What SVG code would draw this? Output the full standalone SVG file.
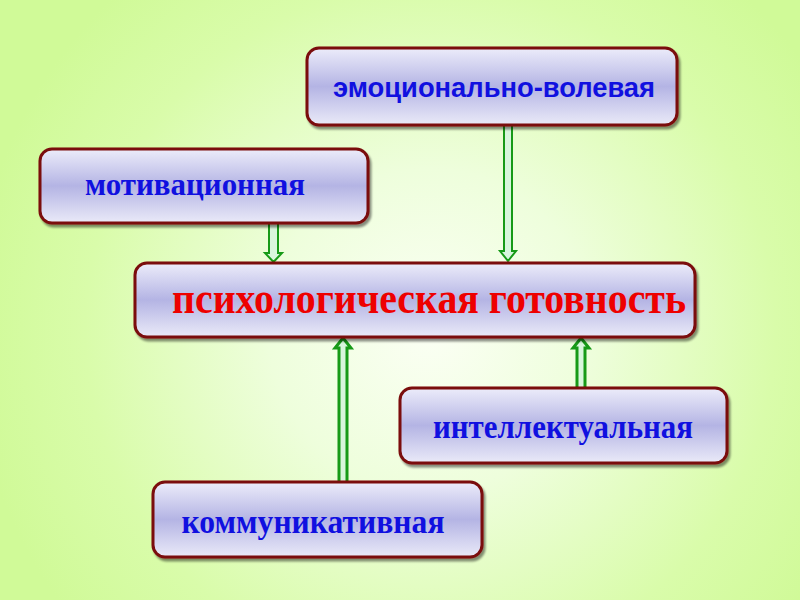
<svg xmlns="http://www.w3.org/2000/svg" width="800" height="600" viewBox="0 0 800 600">
  <defs>
    <radialGradient id="bg" cx="430" cy="330" r="460" gradientUnits="userSpaceOnUse">
      <stop offset="0" stop-color="#fbfff4"/>
      <stop offset="0.35" stop-color="#eefedc"/>
      <stop offset="0.75" stop-color="#d9fcaa"/>
      <stop offset="1" stop-color="#d0fa98"/>
    </radialGradient>
    <linearGradient id="box" x1="0" y1="0" x2="0" y2="1">
      <stop offset="0" stop-color="#ececfa"/>
      <stop offset="0.5" stop-color="#b4b4e4"/>
      <stop offset="1" stop-color="#eaeaf8"/>
    </linearGradient>
    <filter id="sh" x="-5%" y="-10%" width="115%" height="130%">
      <feGaussianBlur in="SourceAlpha" stdDeviation="1.2"/>
      <feOffset dx="2" dy="3" result="o"/>
      <feComponentTransfer><feFuncA type="linear" slope="0.45"/></feComponentTransfer>
      <feMerge><feMergeNode/><feMergeNode in="SourceGraphic"/></feMerge>
    </filter>
  </defs>
  <style>
    .b { fill: url(#box); stroke: #7a0a0a; stroke-width: 3; filter: url(#sh); }
    .t { font-family: "Liberation Serif", "Times New Roman", serif; font-weight: bold; fill: #1010e0; }
    .ts { font-family: "Liberation Sans", Arial, sans-serif; font-weight: bold; fill: #1010e0; }
    .tr { font-family: "Liberation Serif", "Times New Roman", serif; font-weight: bold; fill: #ee0000; }
    .a { fill: #d8f6dc; stroke: #179a17; stroke-width: 2; stroke-linejoin: miter; }
    .a2 { fill: #d8f6dc; stroke: #179a17; stroke-width: 3; stroke-linejoin: miter; }
  </style>
  <rect width="800" height="600" fill="url(#bg)"/>

  <g id="connectors">
    <path class="a" d="M269,223 H278 V253 H282 L273.5,262 L265,253 H269 Z"/>
    <path class="a" d="M504,124 H512 V251 H516 L508,261 L500,251 H504 Z"/>
    <path class="a2" d="M339,483 V348 H335 L343,338 L351,348 H347 V483 Z"/>
    <path class="a2" d="M577,389 V348 H573 L581,338 L589,348 H585 V389 Z"/>
  </g>

  <g id="node-emotional">
    <rect class="b" x="307" y="48" width="370" height="77" rx="12"/>
    <text class="ts" x="494" y="97" font-size="28" text-anchor="middle" textLength="322" lengthAdjust="spacingAndGlyphs">эмоционально-волевая</text>
  </g>
  <g id="node-motivational">
    <rect class="b" x="40" y="149" width="328" height="74" rx="12"/>
    <text class="t" x="195" y="195" font-size="31" text-anchor="middle" textLength="220" lengthAdjust="spacingAndGlyphs">мотивационная</text>
  </g>
  <g id="node-readiness">
    <rect class="b" x="135" y="263" width="560" height="74" rx="12"/>
    <text class="tr" x="429" y="313" font-size="44" text-anchor="middle" textLength="514" lengthAdjust="spacingAndGlyphs">психологическая готовность</text>
  </g>
  <g id="node-intellectual">
    <rect class="b" x="400" y="388" width="327" height="75" rx="12"/>
    <text class="t" x="563" y="438" font-size="34" text-anchor="middle" textLength="260" lengthAdjust="spacingAndGlyphs">интеллектуальная</text>
  </g>
  <g id="node-communicative">
    <rect class="b" x="153" y="482" width="329" height="75" rx="12"/>
    <text class="t" x="313" y="533" font-size="34" text-anchor="middle" textLength="263" lengthAdjust="spacingAndGlyphs">коммуникативная</text>
  </g>
</svg>
